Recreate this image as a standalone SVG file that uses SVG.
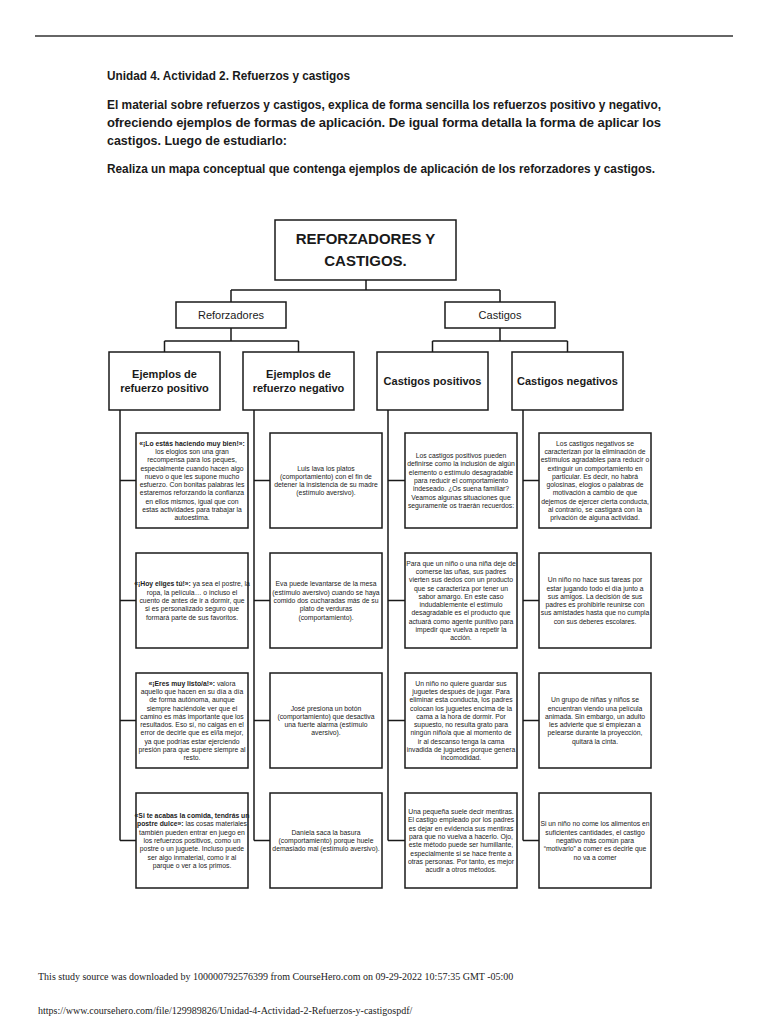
<svg xmlns="http://www.w3.org/2000/svg" width="768" height="1024" viewBox="0 0 768 1024">
<style>
.bg{fill:#fff}
.box{fill:#fff;stroke:#1a1a1a;stroke-width:1.5}
.ln{fill:none;stroke:#1a1a1a;stroke-width:1.5}
.hd{font-family:"Liberation Sans",Arial,sans-serif;font-weight:bold;font-size:13px;fill:#1a1a1a}
.t1{font-family:"Liberation Sans",Arial,sans-serif;font-weight:bold;font-size:15px;fill:#1a1a1a;text-anchor:middle}
.t2{font-family:"Liberation Sans",Arial,sans-serif;font-size:11px;fill:#1a1a1a;text-anchor:middle}
.t3{font-family:"Liberation Sans",Arial,sans-serif;font-weight:bold;font-size:11px;fill:#1a1a1a;text-anchor:middle}
.s{font-family:"Liberation Sans",Arial,sans-serif;font-size:6.8px;fill:#222;text-anchor:middle}
.sb{font-weight:bold}
.ft{font-family:"Liberation Serif","Times New Roman",serif;font-size:10px;fill:#222}
</style>
<rect class="bg" x="0" y="0" width="768" height="1024"/>
<line x1="35" y1="36" x2="733" y2="36" stroke="#333" stroke-width="1.5"/>

<g id="header">
<text class="hd" x="107" y="80" textLength="243" lengthAdjust="spacingAndGlyphs">Unidad 4. Actividad 2. Refuerzos y castigos</text>
<text class="hd" x="107" y="109" textLength="554" lengthAdjust="spacingAndGlyphs">El material sobre refuerzos y castigos, explica de forma sencilla los refuerzos positivo y negativo,</text>
<text class="hd" x="107" y="127" textLength="554" lengthAdjust="spacing">ofreciendo ejemplos de formas de aplicación. De igual forma detalla la forma de aplicar los</text>
<text class="hd" x="107" y="145" textLength="180" lengthAdjust="spacingAndGlyphs">castigos. Luego de estudiarlo:</text>
<text class="hd" x="107" y="173" textLength="548" lengthAdjust="spacingAndGlyphs">Realiza un mapa conceptual que contenga ejemplos de aplicación de los reforzadores y castigos.</text>
</g>

<g id="connectors">
<path class="ln" d="M366 280V290M231 290H500M231 290V302M500 290V302"/>
<path class="ln" d="M231 328V341M164.5 341H298.5M164.5 341V352M298.5 341V352"/>
<path class="ln" d="M500 328V341M432.5 341H567.5M432.5 341V352M567.5 341V352"/>
<path class="ln" d="M120 410V840.5M120 480.5H136M120 600.5H136M120 720.5H136M120 840.5H136"/>
<path class="ln" d="M254 410V840.5M254 480.5H270M254 600.5H270M254 720.5H270M254 840.5H270"/>
<path class="ln" d="M388 410V840.5M388 480.5H405M388 600.5H405M388 720.5H405M388 840.5H405"/>
<path class="ln" d="M523 410V840.5M523 480.5H539M523 600.5H539M523 720.5H539M523 840.5H539"/>
</g>

<g id="root"><rect class="box" x="275" y="220" width="181" height="60"/>
<text class="t1" x="365.5" y="244">REFORZADORES Y</text><text class="t1" x="365.5" y="266">CASTIGOS.</text></g>

<g id="reforzadores"><rect class="box" x="176" y="302" width="110" height="26"/><text class="t2" x="231" y="319">Reforzadores</text></g>
<g id="castigos"><rect class="box" x="445" y="302" width="110" height="26"/><text class="t2" x="500" y="319">Castigos</text></g>

<g id="ej-pos"><rect class="box" x="109" y="352" width="111" height="58"/><text class="t3" x="164.5" y="378">Ejemplos de</text><text class="t3" x="164.5" y="392">refuerzo positivo</text></g>
<g id="ej-neg"><rect class="box" x="243" y="352" width="111" height="58"/><text class="t3" x="298.5" y="378">Ejemplos de</text><text class="t3" x="298.5" y="392">refuerzo negativo</text></g>
<g id="cast-pos"><rect class="box" x="377" y="352" width="111" height="58"/><text class="t3" x="432.5" y="385">Castigos positivos</text></g>
<g id="cast-neg"><rect class="box" x="512" y="352" width="111" height="58"/><text class="t3" x="567.5" y="385">Castigos negativos</text></g>

<g id="r1c1"><rect class="box" x="136" y="433" width="112" height="95"/>
<text class="s" x="192" y="445.6"><tspan class="sb">«¡Lo estás haciendo muy bien!»:</tspan><tspan x="192" dy="8.3">los elogios son una gran</tspan><tspan x="192" dy="8.3">recompensa para los peques,</tspan><tspan x="192" dy="8.3">especialmente cuando hacen algo</tspan><tspan x="192" dy="8.3">nuevo o que les supone mucho</tspan><tspan x="192" dy="8.3">esfuerzo. Con bonitas palabras les</tspan><tspan x="192" dy="8.3">estaremos reforzando la confianza</tspan><tspan x="192" dy="8.3">en ellos mismos, igual que con</tspan><tspan x="192" dy="8.3">estas actividades para trabajar la</tspan><tspan x="192" dy="8.3">autoestima.</tspan></text></g>
<g id="r1c2"><rect class="box" x="270" y="433" width="112" height="95"/>
<text class="s" x="326" y="470.5">Luis lava los platos<tspan x="326" dy="8.3">(comportamiento) con el fin de</tspan><tspan x="326" dy="8.3">detener la insistencia de su madre</tspan><tspan x="326" dy="8.3">(estímulo aversivo).</tspan></text></g>
<g id="r1c3"><rect class="box" x="405" y="433" width="112" height="95"/>
<text class="s" x="461" y="458.1">Los castigos positivos pueden<tspan x="461" dy="8.3">definirse como la inclusión de algún</tspan><tspan x="461" dy="8.3">elemento o estímulo desagradable</tspan><tspan x="461" dy="8.3">para reducir el comportamiento</tspan><tspan x="461" dy="8.3">indeseado. ¿Os suena familiar?</tspan><tspan x="461" dy="8.3">Veamos algunas situaciones que</tspan><tspan x="461" dy="8.3">seguramente os traerán recuerdos:</tspan></text></g>
<g id="r1c4"><rect class="box" x="539" y="433" width="112" height="95"/>
<text class="s" x="595" y="445.6">Los castigos negativos se<tspan x="595" dy="8.3">caracterizan por la eliminación de</tspan><tspan x="595" dy="8.3">estímulos agradables para reducir o</tspan><tspan x="595" dy="8.3">extinguir un comportamiento en</tspan><tspan x="595" dy="8.3">particular. Es decir, no habrá</tspan><tspan x="595" dy="8.3">golosinas, elogios o palabras de</tspan><tspan x="595" dy="8.3">motivación a cambio de que</tspan><tspan x="595" dy="8.3">dejemos de ejercer cierta conducta,</tspan><tspan x="595" dy="8.3">al contrario, se castigará con la</tspan><tspan x="595" dy="8.3">privación de alguna actividad.</tspan></text></g>

<g id="r2c1"><rect class="box" x="136" y="553" width="112" height="95"/>
<text class="s" x="192" y="586.4"><tspan class="sb">«¡Hoy eliges tú!»:</tspan> ya sea el postre, la<tspan x="192" dy="8.3">ropa, la película… o incluso el</tspan><tspan x="192" dy="8.3">cuento de antes de ir a dormir, que</tspan><tspan x="192" dy="8.3">si es personalizado seguro que</tspan><tspan x="192" dy="8.3">formará parte de sus favoritos.</tspan></text></g>
<g id="r2c2"><rect class="box" x="270" y="553" width="112" height="95"/>
<text class="s" x="326" y="586.4">Eva puede levantarse de la mesa<tspan x="326" dy="8.3">(estímulo aversivo) cuando se haya</tspan><tspan x="326" dy="8.3">comido dos cucharadas más de su</tspan><tspan x="326" dy="8.3">plato de verduras</tspan><tspan x="326" dy="8.3">(comportamiento).</tspan></text></g>
<g id="r2c3"><rect class="box" x="405" y="553" width="112" height="95"/>
<text class="s" x="461" y="565.6">Para que un niño o una niña deje de<tspan x="461" dy="8.3">comerse las uñas, sus padres</tspan><tspan x="461" dy="8.3">vierten sus dedos con un producto</tspan><tspan x="461" dy="8.3">que se caracteriza por tener un</tspan><tspan x="461" dy="8.3">sabor amargo. En este caso</tspan><tspan x="461" dy="8.3">indudablemente el estímulo</tspan><tspan x="461" dy="8.3">desagradable es el producto que</tspan><tspan x="461" dy="8.3">actuará como agente punitivo para</tspan><tspan x="461" dy="8.3">impedir que vuelva a repetir la</tspan><tspan x="461" dy="8.3">acción.</tspan></text></g>
<g id="r2c4"><rect class="box" x="539" y="553" width="112" height="95"/>
<text class="s" x="595" y="582.2">Un niño no hace sus tareas por<tspan x="595" dy="8.3">estar jugando todo el día junto a</tspan><tspan x="595" dy="8.3">sus amigos. La decisión de sus</tspan><tspan x="595" dy="8.3">padres es prohibirle reunirse con</tspan><tspan x="595" dy="8.3">sus amistades hasta que no cumpla</tspan><tspan x="595" dy="8.3">con sus deberes escolares.</tspan></text></g>

<g id="r3c1"><rect class="box" x="136" y="673" width="112" height="95"/>
<text class="s" x="192" y="685.6"><tspan class="sb">«¡Eres muy listo/a!»:</tspan> valora<tspan x="192" dy="8.3">aquello que hacen en su día a día</tspan><tspan x="192" dy="8.3">de forma autónoma, aunque</tspan><tspan x="192" dy="8.3">siempre haciéndole ver que el</tspan><tspan x="192" dy="8.3">camino es más importante que los</tspan><tspan x="192" dy="8.3">resultados. Eso sí, no caigas en el</tspan><tspan x="192" dy="8.3">error de decirle que es el/la mejor,</tspan><tspan x="192" dy="8.3">ya que podrías estar ejerciendo</tspan><tspan x="192" dy="8.3">presión para que supere siempre al</tspan><tspan x="192" dy="8.3">resto.</tspan></text></g>
<g id="r3c2"><rect class="box" x="270" y="673" width="112" height="95"/>
<text class="s" x="326" y="710.5">José presiona un botón<tspan x="326" dy="8.3">(comportamiento) que desactiva</tspan><tspan x="326" dy="8.3">una fuerte alarma (estímulo</tspan><tspan x="326" dy="8.3">aversivo).</tspan></text></g>
<g id="r3c3"><rect class="box" x="405" y="673" width="112" height="95"/>
<text class="s" x="461" y="685.6">Un niño no quiere guardar sus<tspan x="461" dy="8.3">juguetes después de jugar. Para</tspan><tspan x="461" dy="8.3">eliminar esta conducta, los padres</tspan><tspan x="461" dy="8.3">colocan los juguetes encima de la</tspan><tspan x="461" dy="8.3">cama a la hora de dormir. Por</tspan><tspan x="461" dy="8.3">supuesto, no resulta grato para</tspan><tspan x="461" dy="8.3">ningún niño/a que al momento de</tspan><tspan x="461" dy="8.3">ir al descanso tenga la cama</tspan><tspan x="461" dy="8.3">invadida de juguetes porque genera</tspan><tspan x="461" dy="8.3">incomodidad.</tspan></text></g>
<g id="r3c4"><rect class="box" x="539" y="673" width="112" height="95"/>
<text class="s" x="595" y="702.2">Un grupo de niñas y niños se<tspan x="595" dy="8.3">encuentran viendo una película</tspan><tspan x="595" dy="8.3">animada. Sin embargo, un adulto</tspan><tspan x="595" dy="8.3">les advierte que si empiezan a</tspan><tspan x="595" dy="8.3">pelearse durante la proyección,</tspan><tspan x="595" dy="8.3">quitará la cinta.</tspan></text></g>

<g id="r4c1"><rect class="box" x="136" y="793" width="112" height="95"/>
<text class="s" x="192" y="818.1"><tspan class="sb">«Si te acabas la comida, tendrás un</tspan><tspan x="192" dy="8.3" class="sb">postre dulce»:</tspan> las cosas materiales<tspan x="192" dy="8.3">también pueden entrar en juego en</tspan><tspan x="192" dy="8.3">los refuerzos positivos, como un</tspan><tspan x="192" dy="8.3">postre o un juguete. Incluso puede</tspan><tspan x="192" dy="8.3">ser algo inmaterial, como ir al</tspan><tspan x="192" dy="8.3">parque o ver a los primos.</tspan></text></g>
<g id="r4c2"><rect class="box" x="270" y="793" width="112" height="95"/>
<text class="s" x="326" y="834.7">Daniela saca la basura<tspan x="326" dy="8.3">(comportamiento) porque huele</tspan><tspan x="326" dy="8.3">demasiado mal (estímulo aversivo).</tspan></text></g>
<g id="r4c3"><rect class="box" x="405" y="793" width="112" height="95"/>
<text class="s" x="461" y="814">Una pequeña suele decir mentiras.<tspan x="461" dy="8.3">El castigo empleado por los padres</tspan><tspan x="461" dy="8.3">es dejar en evidencia sus mentiras</tspan><tspan x="461" dy="8.3">para que no vuelva a hacerlo. Ojo,</tspan><tspan x="461" dy="8.3">este método puede ser humillante,</tspan><tspan x="461" dy="8.3">especialmente si se hace frente a</tspan><tspan x="461" dy="8.3">otras personas. Por tanto, es mejor</tspan><tspan x="461" dy="8.3">acudir a otros métodos.</tspan></text></g>
<g id="r4c4"><rect class="box" x="539" y="793" width="112" height="95"/>
<text class="s" x="595" y="826.4">Si un niño no come los alimentos en<tspan x="595" dy="8.3">suficientes cantidades, el castigo</tspan><tspan x="595" dy="8.3">negativo más común para</tspan><tspan x="595" dy="8.3">“motivarlo” a comer es decirle que</tspan><tspan x="595" dy="8.3">no va a comer</tspan></text></g>

<g id="footer">
<text class="ft" x="38" y="980">This study source was downloaded by 100000792576399 from CourseHero.com on 09-29-2022 10:57:35 GMT -05:00</text>
<text class="ft" x="38" y="1014">https://www.coursehero.com/file/129989826/Unidad-4-Actividad-2-Refuerzos-y-castigospdf/</text>
</g>
</svg>
